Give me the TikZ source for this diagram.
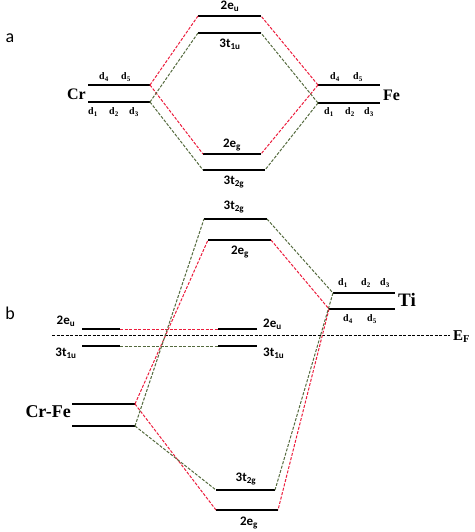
\documentclass[tikz,border=0pt]{standalone}
\usepackage{fontspec}
\setmainfont{Liberation Serif}
\newfontfamily\orbfont{Carlito}
\usetikzlibrary{positioning}
\definecolor{LinkRed}{RGB}{236, 28, 60}
\definecolor{LinkGreen}{RGB}{84, 106, 62}
\tikzset{
  level/.style={line width=1.7pt, black},
  redlink/.style={LinkRed, line width=1pt, dash pattern=on 3pt off 1.5pt},
  greenlink/.style={LinkGreen, line width=1pt, dash pattern=on 3pt off 1.5pt},
  atom/.style={font=\fontsize{16}{16}\selectfont\bfseries, inner sep=1pt},
  orb/.style={font=\orbfont\fontsize{13}{13}\selectfont\bfseries, inner sep=1pt},
  dlab/.style={font=\fontsize{10}{10}\selectfont\bfseries, inner sep=1pt},
  panel/.style={font=\orbfont\fontsize{18}{18}\selectfont, inner sep=1pt}
}

\begin{document}
\begin{tikzpicture}[x=1pt, y=-1pt]
    \useasboundingbox (0,0) rectangle (474,532);

    % panel a: levels
    \coordinate (crUl) at (88,85);   \coordinate (crUr) at (150,85);
    \coordinate (crLl) at (88,102);  \coordinate (crLr) at (150,102);
    \coordinate (euAl) at (198,16);  \coordinate (euAr) at (261,16);
    \coordinate (tuAl) at (198,33);  \coordinate (tuAr) at (261,33);
    \coordinate (egAl) at (203,154); \coordinate (egAr) at (261,154);
    \coordinate (tgAl) at (203,170); \coordinate (tgAr) at (265,170);
    \coordinate (feUl) at (318,85);  \coordinate (feUr) at (380,85);
    \coordinate (feLl) at (318,103); \coordinate (feLr) at (380,103);

    \draw[level] (crUl) -- (crUr);
    \draw[level] (crLl) -- (crLr);
    \draw[level] (euAl) -- (euAr);
    \draw[level] (tuAl) -- (tuAr);
    \draw[level] (egAl) -- (egAr);
    \draw[level] (tgAl) -- (tgAr);
    \draw[level] (feUl) -- (feUr);
    \draw[level] (feLl) -- (feLr);

    \draw[redlink] (crUr) -- (euAl);
    \draw[redlink] (crUr) -- (egAl);
    \draw[redlink] (feUl) -- (euAr);
    \draw[redlink] (feUl) -- (egAr);
    \draw[greenlink] (crLr) -- (tuAl);
    \draw[greenlink] (crLr) -- (tgAl);
    \draw[greenlink] (feLl) -- (tuAr);
    \draw[greenlink] (feLl) -- (tgAr);

    \node[panel] (pa) at (10,38) {a};
    \node[atom, anchor=east] (cr) at (87,94) {Cr};
    \node[atom, anchor=west] (fe) at (382,95) {Fe};
    \node[orb] (euA) at (230,6) {2e\textsubscript{u}};
    \node[orb] (tuA) at (230,44) {3t\textsubscript{1u}};
    \node[orb] (egA) at (232,145) {2e\textsubscript{g}};
    \node[orb] (tgA) at (234,182) {3t\textsubscript{2g}};
    \node[dlab] (crd4) at (104,77) {d\textsubscript{4}};
    \node[dlab] (crd5) at (126,77) {d\textsubscript{5}};
    \node[dlab] (crd1) at (93,112) {d\textsubscript{1}};
    \node[dlab] (crd2) at (114,112) {d\textsubscript{2}};
    \node[dlab] (crd3) at (134,112) {d\textsubscript{3}};
    \node[dlab] (fed4) at (335,77) {d\textsubscript{4}};
    \node[dlab] (fed5) at (358,77) {d\textsubscript{5}};
    \node[dlab] (fed1) at (329,112) {d\textsubscript{1}};
    \node[dlab] (fed2) at (350,112) {d\textsubscript{2}};
    \node[dlab] (fed3) at (369,112) {d\textsubscript{3}};

    % panel b: levels
    \coordinate (tgBl) at (204,219); \coordinate (tgBr) at (267,219);
    \coordinate (egBl) at (208,240); \coordinate (egBr) at (271,240);
    \coordinate (tiUl) at (333,293); \coordinate (tiUr) at (395,293);
    \coordinate (tiLl) at (329,309); \coordinate (tiLr) at (395,309);
    \coordinate (efl) at (52,335);   \coordinate (efr) at (450,335);
    \coordinate (euB1) at (82,329);  \coordinate (euB2) at (120,329);
    \coordinate (euB3) at (218,329); \coordinate (euB4) at (257,329);
    \coordinate (tuB1) at (82,346);  \coordinate (tuB2) at (120,346);
    \coordinate (tuB3) at (218,346); \coordinate (tuB4) at (257,346);
    \coordinate (cfUl) at (72,404);  \coordinate (cfUr) at (135,404);
    \coordinate (cfLl) at (72,426);  \coordinate (cfLr) at (135,426);
    \coordinate (tgCl) at (216,490); \coordinate (tgCr) at (275,490);
    \coordinate (egCl) at (216,510); \coordinate (egCr) at (278,510);

    \draw[level] (tgBl) -- (tgBr);
    \draw[level] (egBl) -- (egBr);
    \draw[level] (tiUl) -- (tiUr);
    \draw[level] (tiLl) -- (tiLr);
    \draw[level] (euB1) -- (euB2);
    \draw[level] (euB3) -- (euB4);
    \draw[level] (tuB1) -- (tuB2);
    \draw[level] (tuB3) -- (tuB4);
    \draw[level] (cfUl) -- (cfUr);
    \draw[level] (cfLl) -- (cfLr);
    \draw[level] (tgCl) -- (tgCr);
    \draw[level] (egCl) -- (egCr);
    \draw[black, line width=0.9pt, dash pattern=on 3pt off 1.5pt] (efl) -- (efr);

    \draw[redlink] (euB2) -- (euB3);
    \draw[greenlink] (tuB2) -- (tuB3);
    \draw[redlink] (cfUr) -- (egBl);
    \draw[redlink] (cfUr) -- (egCl);
    \draw[redlink] (egBr) -- (tiLl);
    \draw[redlink] (tiLl) -- (egCr);
    \draw[greenlink] (cfLr) -- (tgBl);
    \draw[greenlink] (cfLr) -- (tgCl);
    \draw[greenlink] (tgBr) -- (tiUl);
    \draw[greenlink] (tiUl) -- (tgCr);

    \node[panel] (pb) at (10,313) {b};
    \node[atom, anchor=west, font=\fontsize{19}{19}\selectfont\bfseries] (ti) at (397,300) {Ti};
    \node[atom, anchor=east, font=\fontsize{18}{18}\selectfont\bfseries] (crfe) at (72,412) {Cr-Fe};
    \node[atom, anchor=west, font=\fontsize{15}{15}\selectfont\bfseries] (ef) at (452,337) {E\textsubscript{F}};
    \node[orb] (tgB) at (234,207) {3t\textsubscript{2g}};
    \node[orb] (egB) at (240,252) {2e\textsubscript{g}};
    \node[orb] (euBl) at (66,321) {2e\textsubscript{u}};
    \node[orb] (tuBl) at (66,353) {3t\textsubscript{1u}};
    \node[orb, anchor=west] (euBr) at (262,324) {2e\textsubscript{u}};
    \node[orb, anchor=west] (tuBr) at (262,353) {3t\textsubscript{1u}};
    \node[orb] (tgC) at (246,479) {3t\textsubscript{2g}};
    \node[orb] (egC) at (249,523) {2e\textsubscript{g}};
    \node[dlab] (tid1) at (343,283) {d\textsubscript{1}};
    \node[dlab] (tid2) at (366,283) {d\textsubscript{2}};
    \node[dlab] (tid3) at (385,283) {d\textsubscript{3}};
    \node[dlab] (tid4) at (348,319) {d\textsubscript{4}};
    \node[dlab] (tid5) at (372,319) {d\textsubscript{5}};
\end{tikzpicture}
\end{document}
